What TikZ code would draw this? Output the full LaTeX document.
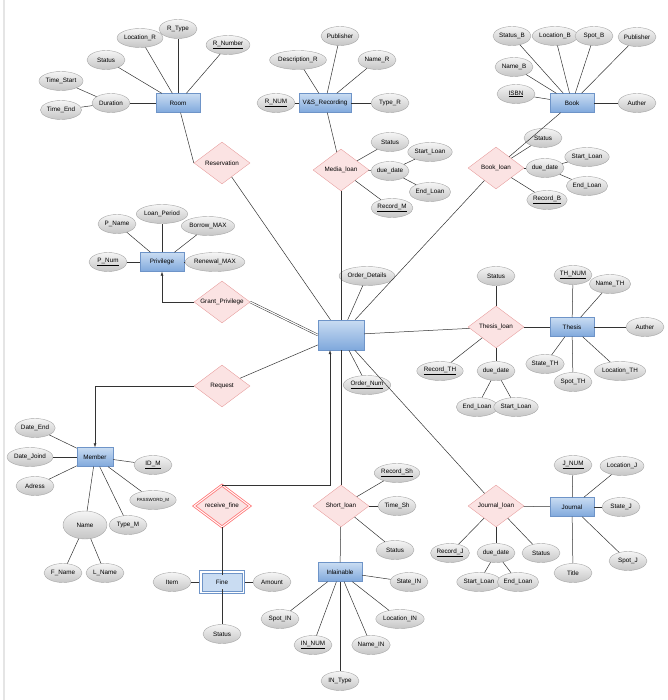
\documentclass[tikz,border=0pt]{standalone}
\usepackage{fontspec}
\setmainfont{Liberation Sans}
\usetikzlibrary{shapes.geometric,arrows.meta}
\definecolor{eTop}{HTML}{C9DCF2}
\definecolor{eBot}{HTML}{7FA8DC}
\definecolor{eDraw}{HTML}{6E94C8}
\definecolor{rFill}{HTML}{FBE3E3}
\definecolor{rDraw}{HTML}{E8A0A0}
\begin{document}
\begin{tikzpicture}[x=1pt,y=-1pt,
 every node/.style={font=\fontsize{6.3}{7}\selectfont},
 attr/.style={ellipse,draw=gray!70,top color=gray!8,bottom color=gray!45,minimum width=38,minimum height=19,inner sep=0.3pt},
 ent/.style={rectangle,draw=eDraw,top color=eTop,bottom color=eBot,minimum width=44,minimum height=19},
 rel/.style={diamond,draw=rDraw,fill=rFill,minimum width=56,minimum height=42,inner sep=0pt,aspect=1.3},
 ln/.style={draw=gray!40!black,line width=0.5pt},
 ar/.style={ln,-{Latex[length=4pt,width=3pt]}}]
\useasboundingbox (0,0) rectangle (667,700);
\draw[gray!20,line width=1.5pt] (4,0)--(4,700);
% Room
\node[ent] (room) at (178,103) {Room};
\node[attr] (locr) at (140,38) {Location\_R};
\node[attr] (rtype) at (178,29) {R\_Type};
\node[attr] (rnum) at (228,45) {\underline{R\_Number}};
\node[attr] (rst) at (106,60) {Status};
\node[attr] (dur) at (111,103) {Duration};
\node[attr] (ts) at (61,81) {Time\_Start};
\node[attr] (te) at (61,110) {Time\_End};
\foreach \a in {locr,rtype,rnum,rst,dur} \draw[ln] (room)--(\a);
\draw[ln] (dur)--(ts); \draw[ln] (dur)--(te);
\node[rel] (resv) at (222,163) {Reservation};
% V&S
\node[ent,minimum width=46] (vs) at (325,103) {V\&S\_Recording};
\node[attr] (desc) at (298,60) {Description\_R};
\node[attr] (pub) at (340,36) {Publisher};
\node[attr] (namer) at (377,60) {Name\_R};
\node[attr] (rn) at (276,103) {\underline{R\_NUM}};
\node[attr] (typer) at (390,103) {Type\_R};
\foreach \a in {desc,pub,namer,rn,typer} \draw[ln] (vs)--(\a);
\node[rel] (media) at (341,170) {Media\_loan};
\node[attr] (mst) at (390,142) {Status};
\node[attr] (mdd) at (390,171) {due\_date};
\node[attr] (msl) at (430,152) {Start\_Loan};
\node[attr] (mel) at (430,192) {End\_Loan};
\node[attr] (mrec) at (392,208) {\underline{Record\_M}};
\foreach \a in {mst,mdd,mrec} \draw[ln] (media)--(\a);
\draw[ln] (mdd)--(msl); \draw[ln] (mdd)--(mel);
% Book
\node[ent] (book) at (572,103) {Book};
\node[attr] (stb) at (512,36) {Status\_B};
\node[attr] (locb) at (555,36) {Location\_B};
\node[attr] (spb) at (594,36) {Spot\_B};
\node[attr] (pubb) at (637,37) {Publisher};
\node[attr] (nmb) at (514,67) {Name\_B};
\node[attr] (isbn) at (516,94) {\underline{ISBN}};
\node[attr] (autb) at (637,103) {Auther};
\foreach \a in {stb,locb,spb,pubb,nmb,isbn,autb} \draw[ln] (book)--(\a);
\node[rel] (bloan) at (496,168) {Book\_loan};
\node[attr] (bst) at (543,138) {Status};
\node[attr] (bdd) at (545,168) {due\_date};
\node[attr] (bsl) at (587,157) {Start\_Loan};
\node[attr] (bel) at (587,186) {End\_Loan};
\node[attr] (brec) at (547,200) {\underline{Record\_B}};
\foreach \a in {bst,bdd,brec} \draw[ln] (bloan)--(\a);
\draw[ln] (bdd)--(bsl); \draw[ln] (bdd)--(bel);
% Privilege
\node[ent] (priv) at (162,262) {Privilege};
\node[attr] (pn) at (117,224) {P\_Name};
\node[attr] (lp) at (162,214) {Loan\_Period};
\node[attr] (bm) at (208,226) {Borrow\_MAX};
\node[attr] (pnum) at (108,262) {\underline{P\_Num}};
\node[attr] (rm) at (215,262) {Renewal\_MAX};
\foreach \a in {pn,lp,bm,pnum,rm} \draw[ln] (priv)--(\a);
\node[rel] (grant) at (222,302) {Grant\_Privilege};
\draw[ar] (grant.west)-|(priv.south);
% center
\node[ent,minimum width=46,minimum height=30] (ctr) at (341,335) {};
\node[attr] (od) at (367,276) {Order\_Details};
\node[attr] (onum) at (367,385) {\underline{Order\_Num}};
\draw[ln] (ctr)--(od); \draw[ln] (ctr)--(onum);
\draw[ln,double,double distance=1.2pt] (grant.east)--(ctr.west);
\draw[ln] (room)--(resv.west); \draw[ln] (resv)--(ctr);
\draw[ln] (vs)--(media); \draw[ln] (media)--(ctr);
\draw[ln] (book)--(bloan); \draw[ln] (bloan)--(ctr);
% Thesis
\node[rel] (tloan) at (496,327) {Thesis\_loan};
\node[attr] (tst) at (496,276) {Status};
\node[attr] (trec) at (440,371) {\underline{Record\_TH}};
\node[attr] (tdd) at (496,371) {due\_date};
\node[attr] (tel) at (477,407) {End\_Loan};
\node[attr] (tsl) at (516,407) {Start\_Loan};
\foreach \a in {tst,trec,tdd} \draw[ln] (tloan)--(\a);
\draw[ln] (tdd)--(tel); \draw[ln] (tdd)--(tsl);
\node[ent] (thesis) at (572,327) {Thesis};
\node[attr] (thn) at (573,275) {\underline{TH\_NUM}};
\node[attr] (nth) at (610,284) {Name\_TH};
\node[attr] (ath) at (645,327) {Auther};
\node[attr] (sth) at (545,364) {State\_TH};
\node[attr] (spth) at (573,382) {Spot\_TH};
\node[attr] (lth) at (620,371) {Location\_TH};
\foreach \a in {thn,nth,ath,sth,spth,lth} \draw[ln] (thesis)--(\a);
\draw[ln] (tloan)--(thesis); \draw[ln] (tloan)--(ctr);
% Member
\node[rel] (req) at (222,386) {Request};
\node[ent,minimum width=36] (mem) at (95,457) {Member};
\draw[ar] (req.west)-|(mem.north);
\draw[ln] (req)--(ctr);
\node[attr] (de) at (35,428) {Date\_End};
\node[attr] (dj) at (30,457) {Date\_Joind};
\node[attr] (adr) at (35,486) {Adress};
\node[attr] (idm) at (153,465) {\underline{ID\_M}};
\node[attr,font=\fontsize{4.5}{5}\selectfont] (pw) at (153,500) {PASSWORD\_M};
\node[attr] (tm) at (128,525) {Type\_M};
\node[attr,minimum height=28,minimum width=44] (nm) at (85,525) {Name};
\node[attr] (fn) at (63,573) {F\_Name};
\node[attr] (lnm) at (105,573) {L\_Name};
\foreach \a in {de,dj,adr,idm,pw,tm,nm} \draw[ln] (mem)--(\a);
\draw[ln] (nm)--(fn); \draw[ln] (nm)--(lnm);
% Fine
\node[rel,draw=red!55,double,double distance=1pt,line width=0.8pt] (rf) at (222,506) {receive\_fine};
\coordinate (rfc) at (330,485);
\draw[ar] (rf.north)--(rf.north|-rfc)--(rfc)--(rfc|-ctr.south);
\node[rectangle,draw=eDraw,fill=eTop,minimum width=40,minimum height=18] (fine) at (222,582) {Fine};
\draw[eDraw,line width=0.6pt] ([shift={(-2.5,2.5)}]fine.south west) rectangle ([shift={(2.5,-2.5)}]fine.north east);
\node[attr] (item) at (172,582) {Item};
\node[attr] (amt) at (272,582) {Amount};
\node[attr] (fst) at (222,634) {Status};
\draw[ln] (item)--([xshift=-2.5]fine.west);
\draw[ln] (amt)--([xshift=2.5]fine.east);
\draw[ln] (fst)--([yshift=2.5]fine.south);
\draw[ln] (rf)--([yshift=-2.5]fine.north);
% Short loan
\node[rel] (sloan) at (341,506) {Short\_loan};
\node[attr] (rsh) at (397,473) {\underline{Record\_Sh}};
\node[attr] (tsh) at (397,506) {Time\_Sh};
\node[attr] (sst) at (395,550) {Status};
\foreach \a in {rsh,tsh,sst} \draw[ln] (sloan)--(\a);
\draw[ln] (sloan)--(sloan|-ctr.south);
\node[ent] (inl) at (340,572) {Inlainable};
\draw[ln] (sloan)--(inl);
\node[attr] (stin) at (409,582) {State\_IN};
\node[attr] (locin) at (400,619) {Location\_IN};
\node[attr] (nmin) at (371,645) {Name\_IN};
\node[attr] (tyin) at (340,681) {IN\_Type};
\node[attr] (numin) at (313,645) {\underline{IN\_NUM}};
\node[attr] (spin) at (280,619) {Spot\_IN};
\foreach \a in {stin,locin,nmin,tyin,numin,spin} \draw[ln] (inl)--(\a);
% Journal
\node[rel] (jloan) at (496,506) {Journal\_loan};
\node[attr] (jrec) at (450,553) {\underline{Record\_J}};
\node[attr] (jdd) at (496,553) {due\_date};
\node[attr] (jst) at (541,553) {Status};
\node[attr] (jsl) at (479,582) {Start\_Loan};
\node[attr] (jel) at (518,582) {End\_Loan};
\foreach \a in {jrec,jdd,jst} \draw[ln] (jloan)--(\a);
\draw[ln] (jdd)--(jsl); \draw[ln] (jdd)--(jel);
\node[ent] (jour) at (572,507) {Journal};
\node[attr] (jn) at (573,465) {\underline{J\_NUM}};
\node[attr] (lj) at (622,466) {Location\_J};
\node[attr] (sj) at (621,507) {State\_J};
\node[attr] (spj) at (628,561) {Spot\_J};
\node[attr] (tit) at (573,573) {Title};
\foreach \a in {jn,lj,sj,spj,tit} \draw[ln] (jour)--(\a);
\draw[ln] (jloan)--(jour); \draw[ln] (jloan)--(ctr);
\end{tikzpicture}
\end{document}
